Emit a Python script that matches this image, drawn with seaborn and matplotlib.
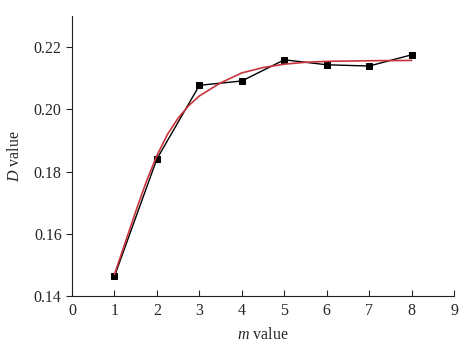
import numpy as np
import pandas as pd
import seaborn as sns
import matplotlib.pyplot as plt

# measured D values for each m
m_values = [1, 2, 3, 4, 5, 6, 7, 8]
d_values = [0.1464, 0.1841, 0.2077, 0.2091, 0.2159, 0.2143, 0.2139, 0.2175]

# fitted curve
fit_m = [1, 1.5, 1.75, 2, 2.25, 2.5, 2.75, 3, 3.5, 4, 4.5, 5, 5.5, 6, 7, 8]
fit_d = [0.1470, 0.1672, 0.1768, 0.1852, 0.1920, 0.1972, 0.2012, 0.2043,
         0.2085, 0.2117, 0.2134, 0.2145, 0.2151, 0.2154, 0.2156, 0.2157]

sns.set_style('ticks')
plt.rcParams['font.family'] = ['Liberation Serif', 'DejaVu Serif']
plt.rcParams['mathtext.fontset'] = 'custom'
plt.rcParams['mathtext.it'] = 'Liberation Serif:italic'
plt.rcParams['mathtext.rm'] = 'Liberation Serif'

df = pd.DataFrame({'m': m_values, 'D': d_values})
fit = pd.DataFrame({'m': fit_m, 'D': fit_d})

fig = plt.figure(figsize=(4.74, 3.53), dpi=100)
ax = fig.add_axes([0.152, 0.161, 0.806, 0.794])

sns.lineplot(x='m', y='D', data=df, ax=ax, color='black', linewidth=1.0,
             marker='s', markersize=5, markeredgecolor='black', zorder=3)
sns.lineplot(x='m', y='D', data=fit, ax=ax, color='#c8343c', linewidth=1.2, zorder=4)

ax.set_xlim(0, 9)
ax.set_ylim(0.14, 0.23)
ax.set_xticks(range(0, 10))
ax.set_yticks([0.14, 0.16, 0.18, 0.20, 0.22])
ax.set_yticklabels(['0.14', '0.16', '0.18', '0.20', '0.22'])
ax.tick_params(axis='x', direction='in', length=4, width=0.8, labelsize=11.5, pad=5)
ax.tick_params(axis='y', direction='out', length=4, width=0.8, labelsize=11.5)
for s in ['left', 'bottom']:
    ax.spines[s].set_linewidth(0.8)
    ax.spines[s].set_color('#222222')
sns.despine(ax=ax)

ax.set_xlabel(r'$m$ value', fontsize=11.5, labelpad=6)
ax.set_ylabel(r'$D$ value', fontsize=11.5, labelpad=8)

fig.savefig('out.png', dpi=100)
